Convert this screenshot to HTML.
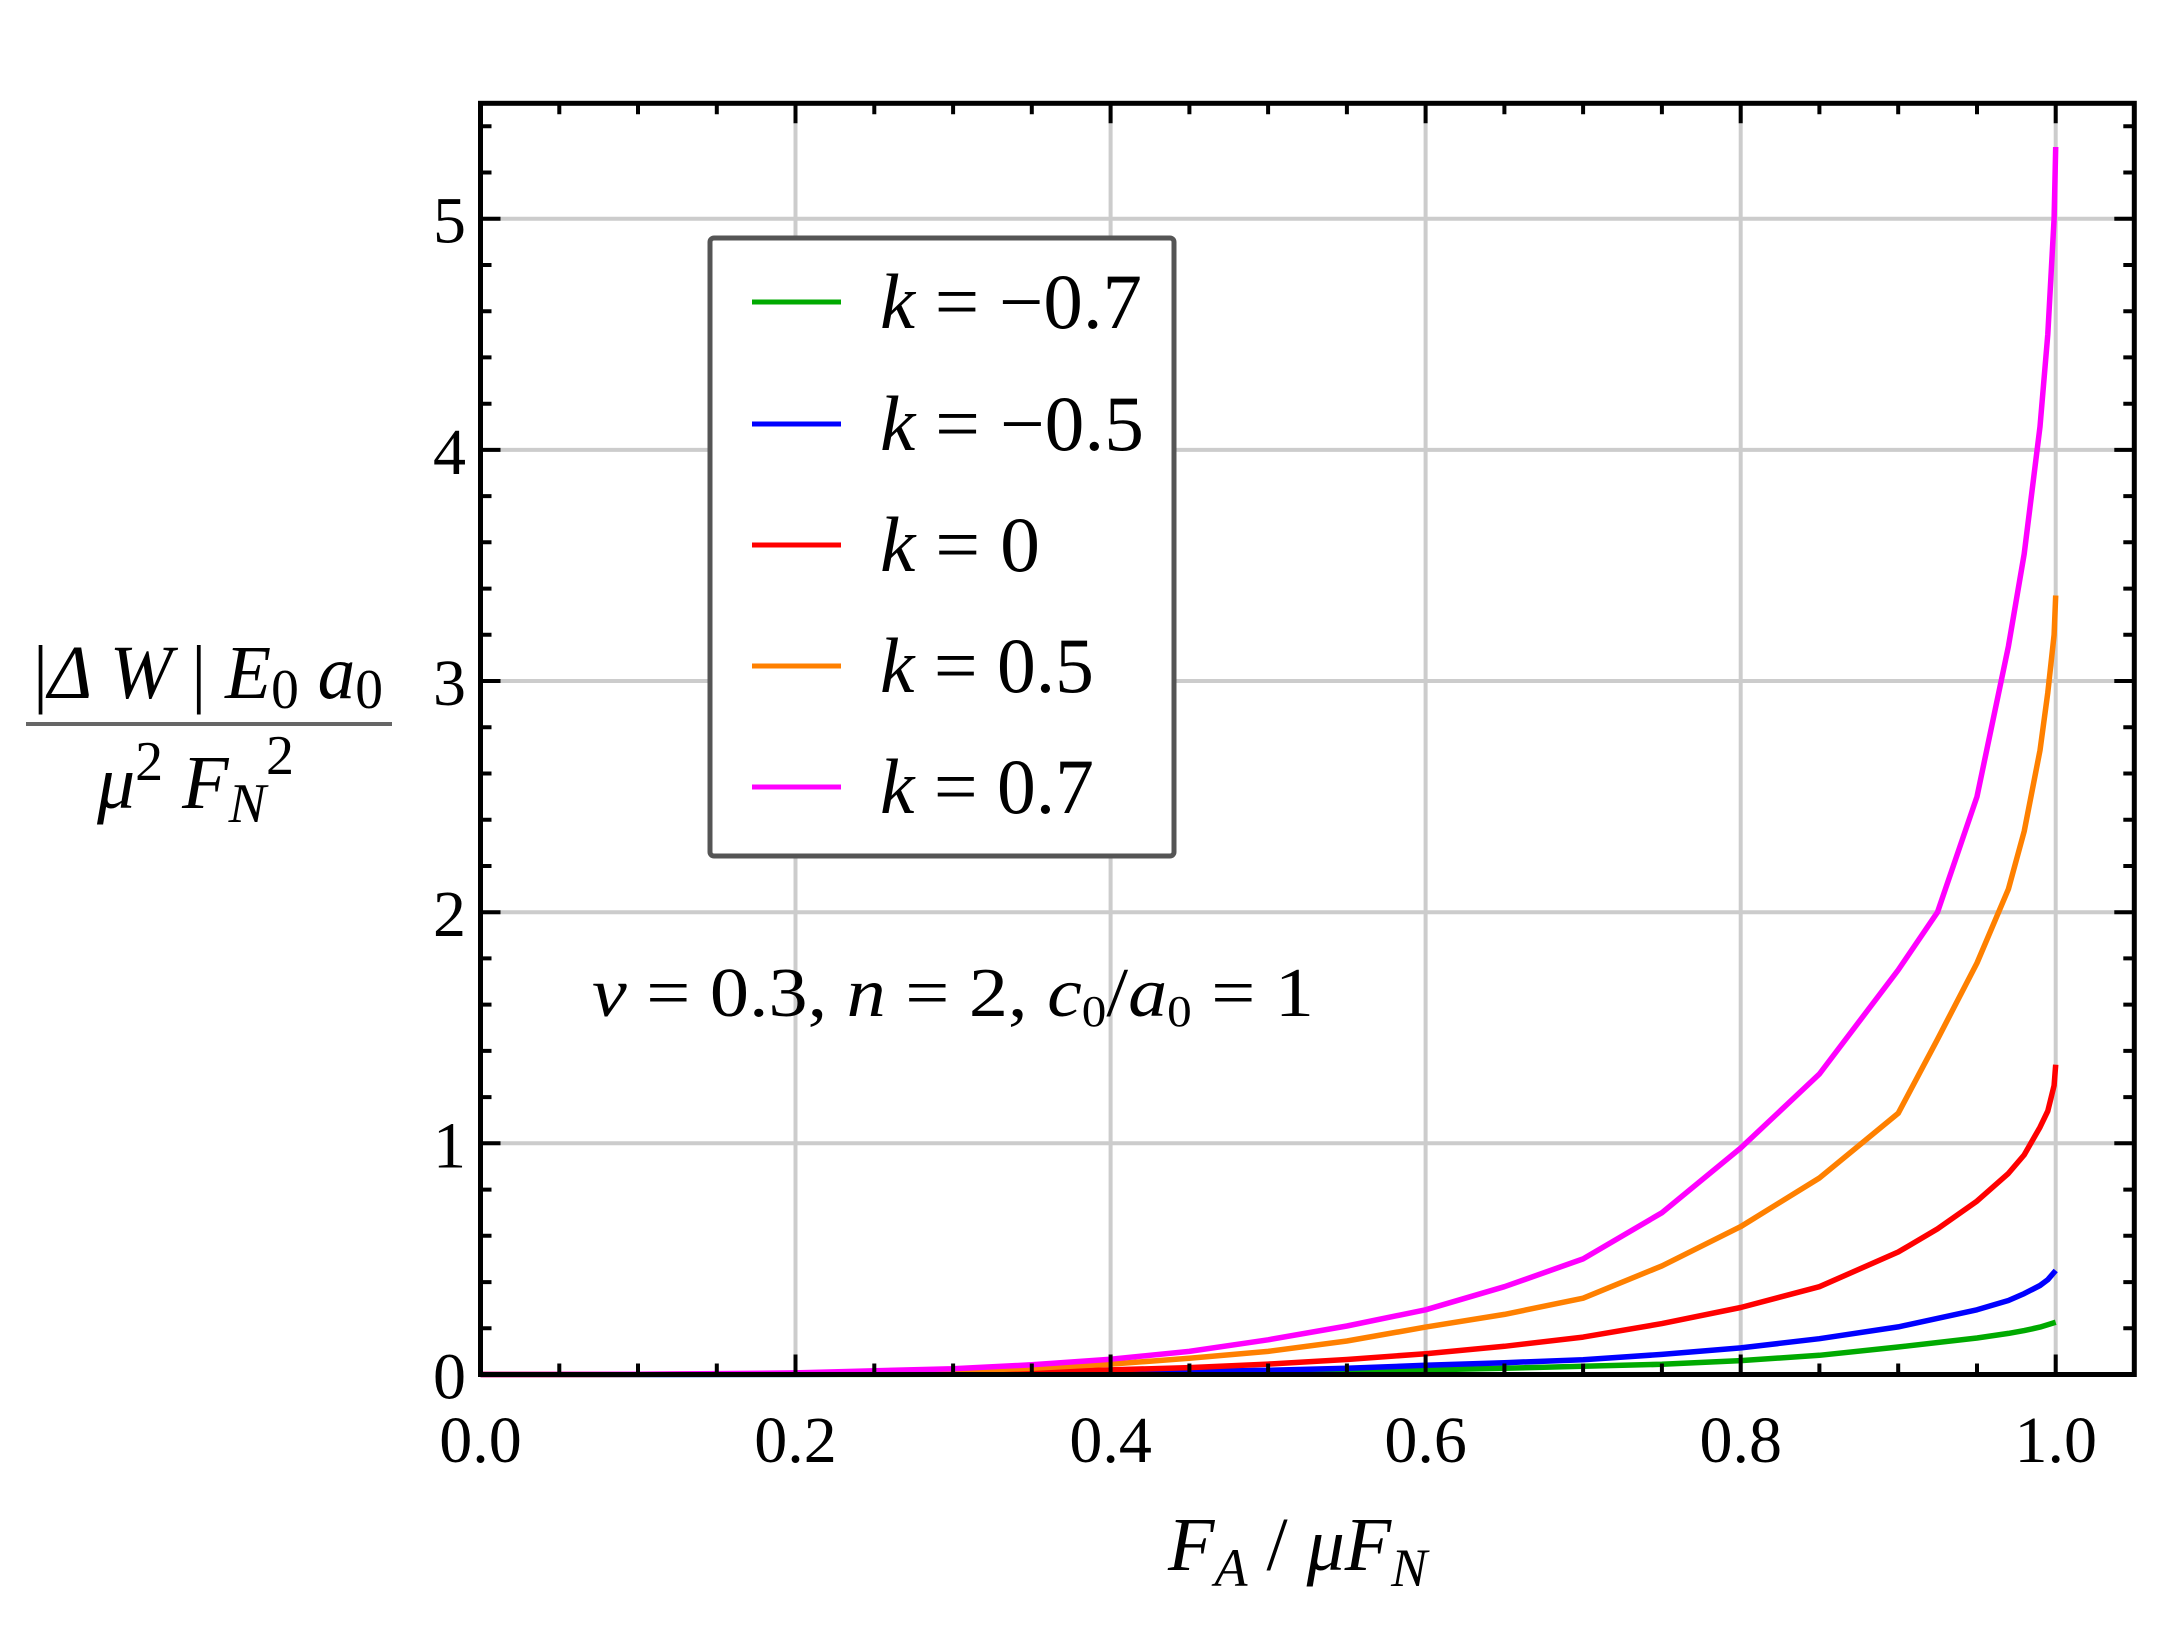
<!DOCTYPE html>
<html><head><meta charset="utf-8"><style>
html,body{margin:0;padding:0;background:#fff;}
svg{display:block;}
text{font-family:"Liberation Serif",serif;fill:#000;}
</style></head><body>
<svg width="2174" height="1640" viewBox="0 0 2174 1640" xmlns="http://www.w3.org/2000/svg">
<rect width="2174" height="1640" fill="#fff"/>
<g stroke="#cccccc" stroke-width="4">
<line x1="795.5" y1="103" x2="795.5" y2="1375"/>
<line x1="1110.6" y1="103" x2="1110.6" y2="1375"/>
<line x1="1425.6" y1="103" x2="1425.6" y2="1375"/>
<line x1="1740.7" y1="103" x2="1740.7" y2="1375"/>
<line x1="2055.7" y1="103" x2="2055.7" y2="1375"/>
<line x1="480" y1="1143.3" x2="2135" y2="1143.3"/>
<line x1="480" y1="912.2" x2="2135" y2="912.2"/>
<line x1="480" y1="681.0" x2="2135" y2="681.0"/>
<line x1="480" y1="449.9" x2="2135" y2="449.9"/>
<line x1="480" y1="218.7" x2="2135" y2="218.7"/>
</g>
<g fill="none" stroke-width="5.5" stroke-linejoin="round">
<polyline stroke="#00aa00" points="480.5,1374.5 953.1,1374.3 1110.6,1373.6 1268.1,1372.2 1425.6,1369.9 1504.4,1368.3 1583.1,1366.2 1661.9,1364.3 1740.7,1360.6 1819.4,1355.3 1898.2,1347.0 1977.0,1338.0 2008.4,1333.4 2024.2,1330.6 2040.0,1327.1 2055.7,1322.3"/>
<polyline stroke="#0000ff" points="480.5,1374.5 795.5,1374.4 953.1,1374.0 1110.6,1372.7 1268.1,1370.3 1346.9,1368.3 1425.6,1365.3 1504.4,1362.7 1583.1,1359.7 1661.9,1354.4 1740.7,1347.9 1819.4,1338.7 1898.2,1326.9 1977.0,1309.8 2008.4,1300.5 2024.2,1293.6 2040.0,1285.5 2047.8,1279.7 2055.7,1270.5"/>
<polyline stroke="#ff0000" points="480.5,1374.5 795.5,1374.0 953.1,1372.9 1031.8,1371.7 1110.6,1369.9 1189.3,1367.6 1268.1,1364.1 1346.9,1359.5 1425.6,1353.7 1504.4,1346.3 1583.1,1337.1 1661.9,1323.6 1740.7,1307.5 1819.4,1286.7 1898.2,1252.0 1937.5,1228.9 1977.0,1201.1 2008.4,1173.4 2024.2,1154.9 2040.0,1127.2 2047.8,1111.0 2054.1,1085.5 2055.7,1064.7"/>
<polyline stroke="#ff8000" points="480.5,1374.5 638.0,1374.4 795.5,1373.6 953.1,1371.0 1031.8,1368.3 1110.6,1364.1 1189.3,1358.3 1268.1,1351.4 1346.9,1341.0 1425.6,1327.1 1504.4,1314.4 1583.1,1298.2 1661.9,1265.9 1740.7,1226.6 1819.4,1178.0 1898.2,1113.3 1937.5,1039.3 1977.0,963.0 2008.4,889.1 2024.2,831.3 2040.0,750.4 2047.8,692.6 2054.1,634.8 2055.7,595.5"/>
<polyline stroke="#ff00ff" points="480.5,1374.5 638.0,1374.3 795.5,1372.9 953.1,1368.7 1031.8,1364.8 1110.6,1359.2 1189.3,1351.4 1268.1,1339.8 1346.9,1326.0 1425.6,1309.8 1504.4,1286.7 1583.1,1258.9 1661.9,1212.7 1740.7,1148.0 1819.4,1074.0 1898.2,970.0 1937.5,912.2 1977.0,796.6 2008.4,646.4 2024.2,553.9 2040.0,426.7 2047.8,334.3 2054.1,218.7 2055.7,147.0"/>
</g>
<g stroke="#000" stroke-width="4" fill="none">
<path d="M559.3 1374.5v-11M638.0 1374.5v-11M716.8 1374.5v-11M874.3 1374.5v-11M953.1 1374.5v-11M1031.8 1374.5v-11M1189.4 1374.5v-11M1268.1 1374.5v-11M1346.9 1374.5v-11M1504.4 1374.5v-11M1583.1 1374.5v-11M1661.9 1374.5v-11M1819.4 1374.5v-11M1898.2 1374.5v-11M1977.0 1374.5v-11M795.5 1374.5v-20M1110.6 1374.5v-20M1425.6 1374.5v-20M1740.7 1374.5v-20M2055.7 1374.5v-20"/>
<path d="M559.3 103.3v11M638.0 103.3v11M716.8 103.3v11M874.3 103.3v11M953.1 103.3v11M1031.8 103.3v11M1189.4 103.3v11M1268.1 103.3v11M1346.9 103.3v11M1504.4 103.3v11M1583.1 103.3v11M1661.9 103.3v11M1819.4 103.3v11M1898.2 103.3v11M1977.0 103.3v11M795.5 103.3v20M1110.6 103.3v20M1425.6 103.3v20M1740.7 103.3v20M2055.7 103.3v20"/>
<path d="M480.5 1328.3h11M480.5 1282.1h11M480.5 1235.8h11M480.5 1189.6h11M480.5 1097.1h11M480.5 1050.9h11M480.5 1004.6h11M480.5 958.4h11M480.5 866.0h11M480.5 819.7h11M480.5 773.5h11M480.5 727.3h11M480.5 634.8h11M480.5 588.6h11M480.5 542.3h11M480.5 496.1h11M480.5 403.7h11M480.5 357.4h11M480.5 311.2h11M480.5 265.0h11M480.5 172.5h11M480.5 126.3h11M480.5 1143.3h20M480.5 912.2h20M480.5 681.0h20M480.5 449.9h20M480.5 218.7h20"/>
<path d="M2134.3 1328.3h-11M2134.3 1282.1h-11M2134.3 1235.8h-11M2134.3 1189.6h-11M2134.3 1097.1h-11M2134.3 1050.9h-11M2134.3 1004.6h-11M2134.3 958.4h-11M2134.3 866.0h-11M2134.3 819.7h-11M2134.3 773.5h-11M2134.3 727.3h-11M2134.3 634.8h-11M2134.3 588.6h-11M2134.3 542.3h-11M2134.3 496.1h-11M2134.3 403.7h-11M2134.3 357.4h-11M2134.3 311.2h-11M2134.3 265.0h-11M2134.3 172.5h-11M2134.3 126.3h-11M2134.3 1143.3h-20M2134.3 912.2h-20M2134.3 681.0h-20M2134.3 449.9h-20M2134.3 218.7h-20"/>
</g>
<rect x="480.5" y="103.3" width="1653.8" height="1271.2" fill="none" stroke="#000" stroke-width="5"/>
<g font-size="66">
<text x="480.5" y="1462" text-anchor="middle">0.0</text>
<text x="795.5" y="1462" text-anchor="middle">0.2</text>
<text x="1110.6" y="1462" text-anchor="middle">0.4</text>
<text x="1425.6" y="1462" text-anchor="middle">0.6</text>
<text x="1740.7" y="1462" text-anchor="middle">0.8</text>
<text x="2055.7" y="1462" text-anchor="middle">1.0</text>
<text x="466" y="1398.5" text-anchor="end">0</text>
<text x="466" y="1167.3" text-anchor="end">1</text>
<text x="466" y="936.2" text-anchor="end">2</text>
<text x="466" y="705.0" text-anchor="end">3</text>
<text x="466" y="473.9" text-anchor="end">4</text>
<text x="466" y="242.7" text-anchor="end">5</text>
</g>

<rect x="710" y="238" width="464" height="618" rx="4" fill="#fff" stroke="#555" stroke-width="5"/>
<g stroke-width="5">
<line x1="752" y1="302" x2="841" y2="302" stroke="#00aa00"/>
<line x1="752" y1="424" x2="841" y2="424" stroke="#0000ff"/>
<line x1="752" y1="545" x2="841" y2="545" stroke="#ff0000"/>
<line x1="752" y1="666" x2="841" y2="666" stroke="#ff8000"/>
<line x1="752" y1="787" x2="841" y2="787" stroke="#ff00ff"/>
</g>
<g font-size="78">
<text x="880" y="328" textLength="262" lengthAdjust="spacingAndGlyphs"><tspan font-style="italic">k</tspan> = −0.7</text>
<text x="880" y="450" textLength="264" lengthAdjust="spacingAndGlyphs"><tspan font-style="italic">k</tspan> = −0.5</text>
<text x="880" y="571" textLength="160" lengthAdjust="spacingAndGlyphs"><tspan font-style="italic">k</tspan> = 0</text>
<text x="880" y="692" textLength="214" lengthAdjust="spacingAndGlyphs"><tspan font-style="italic">k</tspan> = 0.5</text>
<text x="880" y="813" textLength="214" lengthAdjust="spacingAndGlyphs"><tspan font-style="italic">k</tspan> = 0.7</text>
</g>

<text x="592" y="1016" font-size="70" textLength="722" lengthAdjust="spacingAndGlyphs"><tspan font-style="italic">ν</tspan> = 0.3, <tspan font-style="italic">n</tspan> = 2, <tspan font-style="italic">c</tspan><tspan font-size="44" dy="10">0</tspan><tspan dy="-10">/</tspan><tspan font-style="italic">a</tspan><tspan font-size="44" dy="10">0</tspan><tspan dy="-10"> = 1</tspan></text>

<text x="1168" y="1570" font-size="76"><tspan font-style="italic">F</tspan><tspan font-style="italic" font-size="54" dy="16">A</tspan><tspan dy="-16"> / </tspan><tspan font-style="italic">μF</tspan><tspan font-style="italic" font-size="54" dy="16">N</tspan></text>

<text x="33" y="698" font-size="76" textLength="350" lengthAdjust="spacingAndGlyphs">|<tspan font-style="italic">Δ W</tspan> | <tspan font-style="italic">E</tspan><tspan font-size="56" dy="10">0</tspan><tspan dy="-10"> </tspan><tspan font-style="italic">a</tspan><tspan font-size="56" dy="10">0</tspan></text>
<line x1="26" y1="724" x2="392" y2="724" stroke="#666" stroke-width="4"/>
<text x="97" y="808" font-size="76"><tspan font-style="italic">μ</tspan><tspan font-size="56" dy="-28">2</tspan><tspan dy="28"> </tspan><tspan font-style="italic">F</tspan><tspan font-style="italic" font-size="56" dy="14">N</tspan><tspan font-size="56" dy="-48">2</tspan></text>
</svg>
</body></html>
